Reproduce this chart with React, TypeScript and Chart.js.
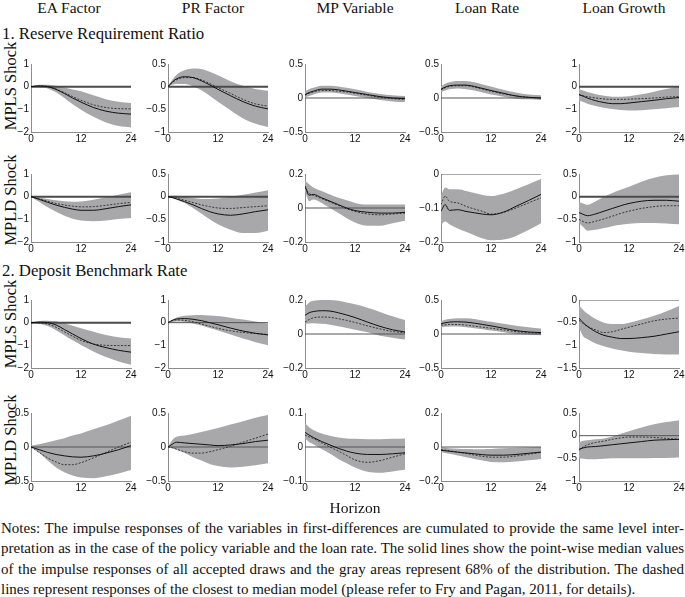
import React, { useEffect, useRef } from 'react';
import { Chart, registerables } from 'chart.js';
Chart.register(...registerables);

// ---------- data ----------
const HORIZON = [0, 1, 2, 4, 6, 8, 10, 12, 15, 18, 21, 24];
const X_TICK_STEP = 12;
const COLUMN_TITLES = ['EA Factor', 'PR Factor', 'MP Variable', 'Loan Rate', 'Loan Growth'];
const SECTION_TITLES = ['1. Reserve Requirement Ratio', '2. Deposit Benchmark Rate'];
const SHOCK_LABELS = ['MPLS Shock', 'MPLD Shock', 'MPLS Shock', 'MPLD Shock'];
const X_LABEL = 'Horizon';
const NOTES = [
  'Notes: The impulse responses of the variables in first-differences are cumulated to provide the same level inter-',
  'pretation as in the case of the policy variable and the loan rate. The solid lines show the point-wise median values',
  'of the impulse responses of all accepted draws and the gray areas represent 68% of the distribution. The dashed',
  'lines represent responses of the closest to median model (please refer to Fry and Pagan, 2011, for details).',
];

// y-axis [min, max, step] per row / column
const Y_AXES_RRR_MPLS = [[-2, 1, 1], [-1, 0.5, 0.5], [-0.5, 0.5, 0.5], [-0.5, 0.5, 0.5], [-2, 1, 1]];
const Y_AXES_RRR_MPLD = [[-2, 1, 1], [-1, 0.5, 0.5], [-0.2, 0.2, 0.2], [-0.2, 0, 0.1], [-1, 0.5, 0.5]];
const Y_AXES_DBR_MPLS = [[-2, 1, 1], [-2, 1, 1], [-0.2, 0.2, 0.2], [-0.5, 0.5, 0.5], [-1.5, 0, 0.5]];
const Y_AXES_DBR_MPLD = [[-0.5, 0.5, 0.5], [-0.5, 0.5, 0.5], [-0.1, 0.1, 0.1], [-0.2, 0.2, 0.2], [-1, 0.5, 0.5]];

// zero-line weight (thick = 1)
const ZERO_THICK = [[1, 1, 0, 0, 1], [1, 1, 0, 0, 1], [1, 0, 0, 0, 0], [0, 0, 0, 0, 0]];

// Row 1: Reserve requirement ratio, MPLS shock
const RRR_MPLS_EA = {
  median: [0, 0.02, 0.03, 0, -0.12, -0.3, -0.5, -0.68, -0.92, -1.08, -1.17, -1.21],
  dashed: [0, 0.02, 0.03, 0.01, -0.1, -0.26, -0.44, -0.6, -0.8, -0.92, -0.97, -0.98],
  upper: [0, 0.05, 0.08, 0.09, 0.04, -0.04, -0.12, -0.2, -0.38, -0.55, -0.66, -0.72],
  lower: [0, -0.01, -0.02, -0.08, -0.25, -0.5, -0.78, -1.02, -1.33, -1.58, -1.74, -1.8],
};
const RRR_MPLS_PR = {
  median: [0, 0.1, 0.17, 0.22, 0.2, 0.13, 0.04, -0.06, -0.2, -0.33, -0.43, -0.49],
  dashed: [0, 0.09, 0.15, 0.2, 0.2, 0.15, 0.07, -0.02, -0.15, -0.28, -0.38, -0.43],
  upper: [0, 0.15, 0.26, 0.36, 0.4, 0.39, 0.33, 0.25, 0.12, 0.02, -0.05, -0.09],
  lower: [0, 0.04, 0.06, 0.06, 0.01, -0.08, -0.2, -0.33, -0.52, -0.7, -0.82, -0.89],
};
const RRR_MPLS_MP = {
  median: [0.05, 0.08, 0.1, 0.13, 0.13, 0.12, 0.1, 0.08, 0.05, 0.02, 0.0, -0.01],
  dashed: [0.04, 0.07, 0.09, 0.11, 0.11, 0.1, 0.09, 0.07, 0.04, 0.01, -0.01, -0.02],
  upper: [0.1, 0.13, 0.15, 0.18, 0.18, 0.17, 0.15, 0.13, 0.09, 0.06, 0.04, 0.03],
  lower: [0.01, 0.03, 0.05, 0.08, 0.08, 0.07, 0.05, 0.03, 0.0, -0.03, -0.05, -0.06],
};
const RRR_MPLS_LR = {
  median: [0.13, 0.16, 0.18, 0.19, 0.19, 0.17, 0.14, 0.11, 0.07, 0.03, 0.01, 0.0],
  dashed: [0.12, 0.15, 0.17, 0.18, 0.18, 0.16, 0.13, 0.1, 0.06, 0.03, 0.01, 0.0],
  upper: [0.17, 0.21, 0.23, 0.25, 0.25, 0.23, 0.2, 0.17, 0.12, 0.08, 0.05, 0.04],
  lower: [0.09, 0.11, 0.13, 0.14, 0.13, 0.11, 0.08, 0.05, 0.02, -0.01, -0.02, -0.03],
};
const RRR_MPLS_LG = {
  median: [-0.35, -0.42, -0.5, -0.62, -0.7, -0.75, -0.75, -0.72, -0.66, -0.6, -0.53, -0.48],
  dashed: [-0.35, -0.4, -0.44, -0.5, -0.54, -0.56, -0.56, -0.55, -0.53, -0.5, -0.46, -0.44],
  upper: [-0.1, -0.17, -0.24, -0.33, -0.4, -0.44, -0.44, -0.42, -0.34, -0.22, -0.1, -0.02],
  lower: [-0.6, -0.68, -0.75, -0.85, -0.93, -0.99, -1.03, -1.05, -1.04, -1.0, -0.95, -0.9],
};

// Row 2: Reserve requirement ratio, MPLD shock
const RRR_MPLD_EA = {
  median: [0, -0.06, -0.12, -0.25, -0.37, -0.47, -0.55, -0.6, -0.6, -0.53, -0.44, -0.36],
  dashed: [0, -0.05, -0.1, -0.2, -0.3, -0.37, -0.42, -0.45, -0.44, -0.38, -0.31, -0.25],
  upper: [0, -0.02, -0.05, -0.1, -0.16, -0.2, -0.22, -0.21, -0.14, -0.03, 0.09, 0.2],
  lower: [0, -0.12, -0.24, -0.47, -0.67, -0.84, -0.97, -1.05, -1.08, -1.05, -0.99, -0.94],
};
const RRR_MPLD_PR = {
  median: [0, -0.02, -0.05, -0.11, -0.18, -0.26, -0.33, -0.38, -0.41, -0.38, -0.33, -0.29],
  dashed: [0, -0.01, -0.03, -0.08, -0.13, -0.18, -0.22, -0.25, -0.26, -0.24, -0.22, -0.2],
  upper: [0, 0.02, 0.02, 0.0, -0.03, -0.05, -0.05, -0.04, 0.0, 0.04, 0.09, 0.14],
  lower: [0, -0.03, -0.06, -0.14, -0.25, -0.37, -0.5, -0.61, -0.73, -0.8, -0.8, -0.75],
};
const RRR_MPLD_MP = {
  median: [0.13, 0.075, 0.08, 0.06, 0.04, 0.02, 0.0, -0.015, -0.025, -0.03, -0.03, -0.025],
  dashed: [0.12, 0.085, 0.075, 0.055, 0.035, 0.015, -0.005, -0.02, -0.035, -0.04, -0.035, -0.03],
  upper: [0.16, 0.14, 0.12, 0.1, 0.08, 0.06, 0.045, 0.03, 0.02, 0.02, 0.02, 0.02],
  lower: [0.1, 0.04, 0.05, 0.03, 0.0, -0.03, -0.06, -0.085, -0.105, -0.105, -0.09, -0.075],
};
const RRR_MPLD_LR = {
  median: [-0.11, -0.09, -0.107, -0.105, -0.11, -0.114, -0.118, -0.12, -0.112, -0.095, -0.078, -0.06],
  dashed: [-0.09, -0.065, -0.08, -0.085, -0.095, -0.103, -0.11, -0.118, -0.113, -0.1, -0.085, -0.07],
  upper: [-0.065, -0.04, -0.045, -0.045, -0.05, -0.056, -0.062, -0.065, -0.058, -0.045, -0.03, -0.015],
  lower: [-0.15, -0.14, -0.148, -0.16, -0.17, -0.18, -0.19, -0.195, -0.193, -0.182, -0.165, -0.145],
};
const RRR_MPLD_LG = {
  median: [-0.35, -0.39, -0.42, -0.38, -0.32, -0.26, -0.2, -0.15, -0.1, -0.08, -0.08, -0.1],
  dashed: [-0.5, -0.55, -0.58, -0.54, -0.49, -0.43, -0.37, -0.32, -0.26, -0.22, -0.2, -0.2],
  upper: [-0.12, -0.15, -0.18, -0.1, 0.0, 0.08, 0.15, 0.22, 0.33, 0.42, 0.47, 0.49],
  lower: [-0.58, -0.67, -0.75, -0.73, -0.69, -0.65, -0.62, -0.6, -0.58, -0.58, -0.59, -0.61],
};

// Row 3: Deposit benchmark rate, MPLS shock
const DBR_MPLS_EA = {
  median: [0, 0.01, 0.02, 0.0, -0.1, -0.3, -0.5, -0.7, -0.95, -1.1, -1.22, -1.3],
  dashed: [0, 0.0, -0.01, -0.06, -0.2, -0.4, -0.6, -0.78, -0.94, -1.0, -1.01, -1.01],
  upper: [0, 0.04, 0.07, 0.09, 0.06, -0.03, -0.14, -0.25, -0.4, -0.54, -0.64, -0.7],
  lower: [0, -0.02, -0.05, -0.15, -0.33, -0.55, -0.78, -0.98, -1.27, -1.52, -1.71, -1.86],
};
const DBR_MPLS_PR = {
  median: [0, 0.1, 0.16, 0.18, 0.15, 0.09, 0.0, -0.09, -0.24, -0.37, -0.47, -0.54],
  dashed: [0, 0.09, 0.12, 0.1, 0.04, -0.06, -0.16, -0.25, -0.36, -0.43, -0.48, -0.52],
  upper: [0, 0.12, 0.22, 0.3, 0.33, 0.34, 0.32, 0.29, 0.22, 0.14, 0.05, -0.04],
  lower: [0, 0.03, 0.05, 0.03, -0.04, -0.13, -0.24, -0.35, -0.52, -0.7, -0.86, -1.0],
};
const DBR_MPLS_MP = {
  median: [0.11, 0.125, 0.132, 0.137, 0.135, 0.125, 0.112, 0.097, 0.07, 0.045, 0.025, 0.012],
  dashed: [0.07, 0.085, 0.095, 0.1, 0.098, 0.09, 0.08, 0.068, 0.048, 0.03, 0.015, 0.008],
  upper: [0.16, 0.185, 0.195, 0.2, 0.2, 0.195, 0.185, 0.175, 0.155, 0.13, 0.105, 0.083],
  lower: [0.06, 0.062, 0.063, 0.06, 0.055, 0.045, 0.035, 0.025, 0.01, -0.01, -0.022, -0.033],
};
const DBR_MPLS_LR = {
  median: [0.15, 0.165, 0.175, 0.18, 0.175, 0.16, 0.14, 0.12, 0.085, 0.05, 0.03, 0.02],
  dashed: [0.13, 0.135, 0.14, 0.14, 0.13, 0.115, 0.1, 0.085, 0.06, 0.035, 0.02, 0.01],
  upper: [0.19, 0.21, 0.22, 0.23, 0.23, 0.22, 0.2, 0.18, 0.15, 0.12, 0.1, 0.08],
  lower: [0.1, 0.105, 0.11, 0.11, 0.1, 0.085, 0.07, 0.05, 0.025, 0.0, -0.01, -0.02],
};
const DBR_MPLS_LG = {
  median: [-0.4, -0.5, -0.58, -0.7, -0.78, -0.82, -0.85, -0.85, -0.83, -0.8, -0.75, -0.7],
  dashed: [-0.45, -0.52, -0.58, -0.66, -0.72, -0.7, -0.65, -0.6, -0.53, -0.46, -0.42, -0.4],
  upper: [-0.12, -0.22, -0.3, -0.42, -0.5, -0.53, -0.53, -0.5, -0.43, -0.35, -0.25, -0.13],
  lower: [-0.6, -0.8, -0.86, -0.96, -1.02, -1.07, -1.11, -1.14, -1.17, -1.19, -1.2, -1.2],
};

// Row 4: Deposit benchmark rate, MPLD shock
const DBR_MPLD_EA = {
  median: [0, -0.02, -0.04, -0.08, -0.11, -0.13, -0.145, -0.15, -0.13, -0.09, -0.04, 0.02],
  dashed: [0, -0.04, -0.08, -0.16, -0.22, -0.26, -0.26, -0.23, -0.16, -0.08, 0.0, 0.07],
  upper: [0.02, 0.03, 0.04, 0.07, 0.1, 0.13, 0.17, 0.2, 0.26, 0.32, 0.39, 0.46],
  lower: [0, -0.04, -0.09, -0.2, -0.3, -0.37, -0.42, -0.45, -0.46, -0.43, -0.39, -0.34],
};
const DBR_MPLD_PR = {
  median: [0, 0.04, 0.07, 0.06, 0.05, 0.04, 0.03, 0.02, 0.03, 0.05, 0.08, 0.1],
  dashed: [0, -0.01, -0.03, -0.07, -0.09, -0.09, -0.07, -0.04, 0.01, 0.07, 0.13, 0.19],
  upper: [0, 0.1, 0.15, 0.17, 0.19, 0.22, 0.25, 0.28, 0.33, 0.38, 0.43, 0.47],
  lower: [0, -0.02, -0.04, -0.09, -0.15, -0.2, -0.25, -0.28, -0.3, -0.29, -0.27, -0.24],
};
const DBR_MPLD_MP = {
  median: [0.043, 0.035, 0.028, 0.016, 0.006, -0.004, -0.012, -0.018, -0.022, -0.022, -0.02, -0.017],
  dashed: [0.035, 0.03, 0.025, 0.012, 0.0, -0.012, -0.025, -0.038, -0.045, -0.04, -0.03, -0.02],
  upper: [0.07, 0.058, 0.05, 0.04, 0.033, 0.028, 0.025, 0.024, 0.023, 0.023, 0.024, 0.025],
  lower: [0.025, 0.015, 0.008, -0.006, -0.02, -0.035, -0.048, -0.06, -0.073, -0.076, -0.072, -0.067],
};
const DBR_MPLD_LR = {
  median: [-0.02, -0.022, -0.025, -0.03, -0.035, -0.04, -0.045, -0.048, -0.048, -0.044, -0.037, -0.03],
  dashed: [-0.015, -0.018, -0.022, -0.03, -0.038, -0.047, -0.055, -0.06, -0.06, -0.053, -0.043, -0.032],
  upper: [0.0, -0.005, -0.007, -0.01, -0.012, -0.013, -0.013, -0.012, -0.008, -0.004, -0.001, 0.0],
  lower: [-0.03, -0.035, -0.04, -0.05, -0.06, -0.07, -0.08, -0.088, -0.09, -0.086, -0.078, -0.07],
};
const DBR_MPLD_LG = {
  median: [-0.3, -0.27, -0.25, -0.24, -0.22, -0.2, -0.18, -0.16, -0.13, -0.1, -0.09, -0.08],
  dashed: [-0.32, -0.25, -0.2, -0.15, -0.12, -0.08, -0.05, -0.03, -0.03, -0.04, -0.06, -0.08],
  upper: [-0.15, -0.11, -0.1, -0.08, -0.06, -0.02, 0.04, 0.1, 0.18, 0.25, 0.3, 0.34],
  lower: [-0.5, -0.51, -0.52, -0.52, -0.51, -0.5, -0.5, -0.5, -0.5, -0.49, -0.49, -0.48],
};

const PANELS = [
  [RRR_MPLS_EA, RRR_MPLS_PR, RRR_MPLS_MP, RRR_MPLS_LR, RRR_MPLS_LG],
  [RRR_MPLD_EA, RRR_MPLD_PR, RRR_MPLD_MP, RRR_MPLD_LR, RRR_MPLD_LG],
  [DBR_MPLS_EA, DBR_MPLS_PR, DBR_MPLS_MP, DBR_MPLS_LR, DBR_MPLS_LG],
  [DBR_MPLD_EA, DBR_MPLD_PR, DBR_MPLD_MP, DBR_MPLD_LR, DBR_MPLD_LG],
];
const Y_AXES = [Y_AXES_RRR_MPLS, Y_AXES_RRR_MPLD, Y_AXES_DBR_MPLS, Y_AXES_DBR_MPLD];

// ---------- layout ----------
const COL_LEFT = [31, 168, 305, 441, 579];
const ROW_TOP = [62, 172, 298, 411];
const LABEL_CENTER_Y = [86, 200, 324, 440];
const PLOT_W = 100;
const PLOT_H = 70;
const AXIS_W = 30;
const PAD_TOP = 6;
const PAD_RIGHT = 8;
const XAXIS_H = 14;
const TITLE_X = [69, 213, 355, 487, 624];

const SERIF = '"Liberation Serif", "Times New Roman", serif';
const SANS = '"Liberation Sans", Arial, sans-serif';
const BAND = 'rgb(168,168,170)';

function fmt(v: number) {
  const n = Math.round(v * 1000) / 1000;
  return n < 0 ? '\u2212' + String(-n) : String(n);
}

function Panel({ row, col }: { row: number; col: number }) {
  const ref = useRef<HTMLCanvasElement | null>(null);
  useEffect(() => {
    const p = PANELS[row][col];
    const [ymin, ymax, ystep] = Y_AXES[row][col];
    const pts = (arr: number[]) => arr.map((y, i) => ({ x: HORIZON[i], y }));
    const zero = [
      { x: HORIZON[0], y: 0 },
      { x: HORIZON[HORIZON.length - 1], y: 0 },
    ];
    const thick = ZERO_THICK[row][col] === 1;
    const tickFont = { family: SANS, size: 10 };
    const chart = new Chart(ref.current!, {
      type: 'line',
      data: {
        datasets: [
          { data: pts(p.upper), borderWidth: 0, borderColor: BAND, backgroundColor: BAND, fill: '+1', order: 3, cubicInterpolationMode: 'monotone', pointRadius: 0 },
          { data: pts(p.lower), borderWidth: 0, borderColor: BAND, fill: false, order: 3, cubicInterpolationMode: 'monotone', pointRadius: 0 },
          { data: zero, borderWidth: thick ? 2 : 1, borderColor: thick ? '#4a4a4a' : '#555', fill: false, order: 2, pointRadius: 0 },
          { data: pts(p.dashed), borderWidth: 0.9, borderColor: '#2a2a2a', borderDash: [2, 1.5], fill: false, order: 1, cubicInterpolationMode: 'monotone', pointRadius: 0 },
          { data: pts(p.median), borderWidth: 1, borderColor: '#111', fill: false, order: 0, cubicInterpolationMode: 'monotone', pointRadius: 0 },
        ],
      } as any,
      options: {
        animation: false,
        responsive: false,
        events: [],
        layout: { padding: { top: PAD_TOP, right: PAD_RIGHT, left: 0, bottom: 0 } },
        plugins: { legend: { display: false }, tooltip: { enabled: false } },
        scales: {
          x: {
            type: 'linear',
            min: HORIZON[0],
            max: HORIZON[HORIZON.length - 1],
            grid: { display: true, drawOnChartArea: false, drawTicks: false },
            border: { display: true, color: '#8c8c8c', width: 1 },
            ticks: { stepSize: X_TICK_STEP, font: tickFont, color: '#111', padding: 1, maxRotation: 0, autoSkip: false },
            afterFit: (s: any) => { s.height = XAXIS_H; },
          },
          y: {
            type: 'linear',
            min: ymin,
            max: ymax,
            grid: { display: true, drawOnChartArea: false, drawTicks: false },
            border: { display: true, color: '#8c8c8c', width: 1 },
            ticks: { stepSize: ystep, font: tickFont, color: '#111', padding: 2, autoSkip: false, callback: (v: any) => fmt(Number(v)) },
            afterFit: (s: any) => { s.width = AXIS_W; },
          },
        },
      } as any,
    });
    return () => chart.destroy();
  }, [row, col]);
  const w = AXIS_W + PLOT_W + PAD_RIGHT;
  const h = PAD_TOP + PLOT_H + XAXIS_H;
  return (
    <canvas
      ref={ref}
      width={w}
      height={h}
      style={{ position: 'absolute', left: COL_LEFT[col] - AXIS_W, top: ROW_TOP[row] - PAD_TOP, width: w, height: h, display: 'block' }}
    />
  );
}

export default function App() {
  const textBase: React.CSSProperties = { position: 'absolute', fontFamily: SERIF, color: '#111', whiteSpace: 'nowrap' };
  return (
    <div style={{ position: 'absolute', left: 0, top: 0, width: 685, height: 597, background: '#fff', overflow: 'hidden' }}>
      {COLUMN_TITLES.map((t, i) => (
        <div key={t} style={{ ...textBase, left: TITLE_X[i], top: 8, fontSize: 15.5, transform: 'translate(-50%, -50%)' }}>{t}</div>
      ))}
      <div style={{ ...textBase, left: 2, top: 34, fontSize: 16.8, transform: 'translateY(-50%)' }}>{SECTION_TITLES[0]}</div>
      <div style={{ ...textBase, left: 2, top: 271, fontSize: 16.8, transform: 'translateY(-50%)' }}>{SECTION_TITLES[1]}</div>
      {SHOCK_LABELS.map((t, r) => (
        <div key={r} style={{ ...textBase, left: 11, top: LABEL_CENTER_Y[r], fontSize: 16.5, transform: 'translate(-50%, -50%) rotate(-90deg)' }}>{t}</div>
      ))}
      {PANELS.map((rowP, r) => rowP.map((_, c) => <Panel key={r + '-' + c} row={r} col={c} />))}
      <div style={{ ...textBase, left: 355, top: 508, fontSize: 15.5, transform: 'translate(-50%, -50%)' }}>{X_LABEL}</div>
      {NOTES.map((line, i) => (
        <div
          key={i}
          style={{
            position: 'absolute',
            left: 1,
            width: 683,
            top: 528 + i * 20.3,
            lineHeight: '17px',
            transform: 'translateY(-50%)',
            fontFamily: SERIF,
            fontSize: 15,
            color: '#111',
            whiteSpace: 'nowrap',
            textAlign: i === NOTES.length - 1 ? 'left' : 'justify',
            textAlignLast: i === NOTES.length - 1 ? 'left' : 'justify',
          } as React.CSSProperties}
        >
          {line}
        </div>
      ))}
    </div>
  );
}
